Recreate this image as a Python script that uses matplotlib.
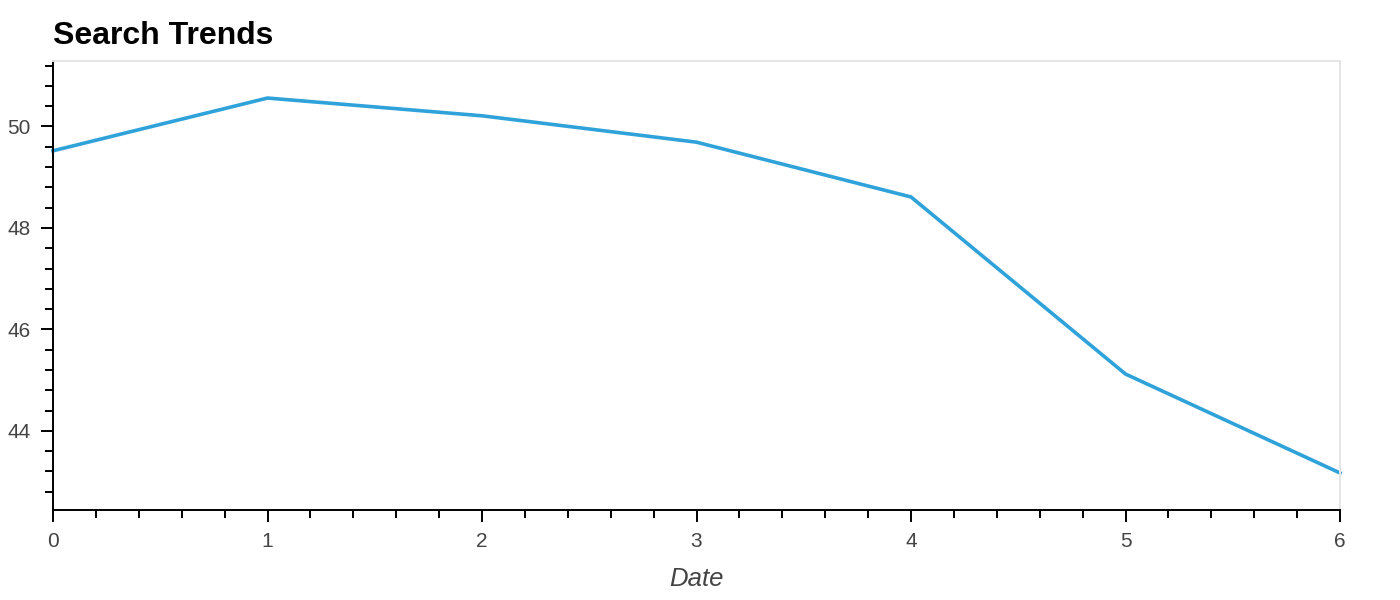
import matplotlib
matplotlib.use('Agg')
from matplotlib import pyplot as plt
from matplotlib.ticker import MultipleLocator

# data
dates = [0, 1, 2, 3, 4, 5, 6]
values = [49.52, 50.56, 50.21, 49.69, 48.61, 45.12, 43.17]

plt.rcParams['font.family'] = ['Liberation Sans', 'DejaVu Sans']

fig = plt.figure(figsize=(14, 6), dpi=100)
ax = fig.add_axes([53/1400, 1-510/600, (1340-53)/1400, (510-61)/600])

ax.plot(dates, values, color='#30a2da', lw=2.6, solid_joinstyle='miter', clip_on=False)

ax.set_xlim(0, 6)
ax.set_ylim(42.44, 51.29)
ax.xaxis.set_major_locator(MultipleLocator(1))
ax.xaxis.set_minor_locator(MultipleLocator(0.2))
ax.yaxis.set_major_locator(MultipleLocator(2))
ax.yaxis.set_minor_locator(MultipleLocator(0.4))

for s in ['top', 'right']:
    ax.spines[s].set_color('#e5e5e5')
    ax.spines[s].set_linewidth(1.4)
for s in ['left', 'bottom']:
    ax.spines[s].set_color('black')
    ax.spines[s].set_linewidth(1.4)

ax.tick_params(which='major', direction='out', length=8.6, width=1.4, color='black',
               labelsize=15, labelcolor='#444444', pad=7.5)
ax.tick_params(which='minor', direction='out', length=5.8, width=1.4, color='black')

ax.set_xlabel('Date', fontsize=18.5, style='italic', color='#444444', labelpad=11)
ax.set_title('Search Trends', loc='left', fontsize=23, fontweight='bold', pad=12)

fig.savefig('out.png', dpi=100)
